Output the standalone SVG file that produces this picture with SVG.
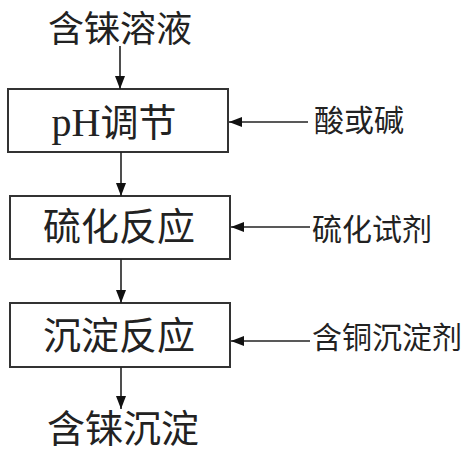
<svg xmlns="http://www.w3.org/2000/svg" width="474" height="454" viewBox="0 0 474 454">
<style>
.box{fill:#fff;stroke:#333;stroke-width:2}
.t{font-family:"Noto Sans CJK SC","Noto Sans",sans-serif;fill:#222;text-anchor:middle}
.big{font-size:38px}
.side{font-size:30px;text-anchor:start}
.ln{stroke:#222;stroke-width:1.6;fill:none}
</style>
<defs>
<marker id="ah" markerWidth="13" markerHeight="10" refX="13" refY="5" orient="auto" markerUnits="userSpaceOnUse">
<path d="M0,0 L13,5 L0,10 Z" fill="#111"/>
</marker>
</defs>
<rect width="474" height="454" fill="#fff"/>
<g id="input"><text class="t" font-size="36" x="120" y="42">含铼溶液</text></g>
<g id="ph"><rect class="box" x="8" y="89" width="220" height="63"/>
<text class="t big" x="114" y="136"><tspan font-family="Liberation Serif,serif" font-size="40">pH</tspan>调节</text></g>
<g id="sulf"><rect class="box" x="10" y="196" width="220" height="63"/>
<text class="t big" x="119" y="240">硫化反应</text></g>
<g id="prec"><rect class="box" x="10" y="303" width="220" height="64"/>
<text class="t big" x="119" y="349">沉淀反应</text></g>
<g id="output"><text class="t big" x="123" y="442">含铼沉淀</text></g>
<g id="acid"><text class="t side" x="314" y="131">酸或碱</text></g>
<g id="reagent"><text class="t side" x="312" y="240">硫化试剂</text></g>
<g id="cu"><text class="t side" x="312" y="348">含铜沉淀剂</text></g>
<g id="connectors">
<line class="ln" x1="120" y1="46" x2="120" y2="89" marker-end="url(#ah)"/>
<line class="ln" x1="121" y1="152" x2="121" y2="196" marker-end="url(#ah)"/>
<line class="ln" x1="121" y1="259" x2="121" y2="303" marker-end="url(#ah)"/>
<line class="ln" x1="121" y1="367" x2="121" y2="409" marker-end="url(#ah)"/>
<line class="ln" x1="308" y1="122" x2="229" y2="122" marker-end="url(#ah)"/>
<line class="ln" x1="310" y1="227" x2="231" y2="227" marker-end="url(#ah)"/>
<line class="ln" x1="310" y1="341" x2="231" y2="341" marker-end="url(#ah)"/>
</g>
</svg>
